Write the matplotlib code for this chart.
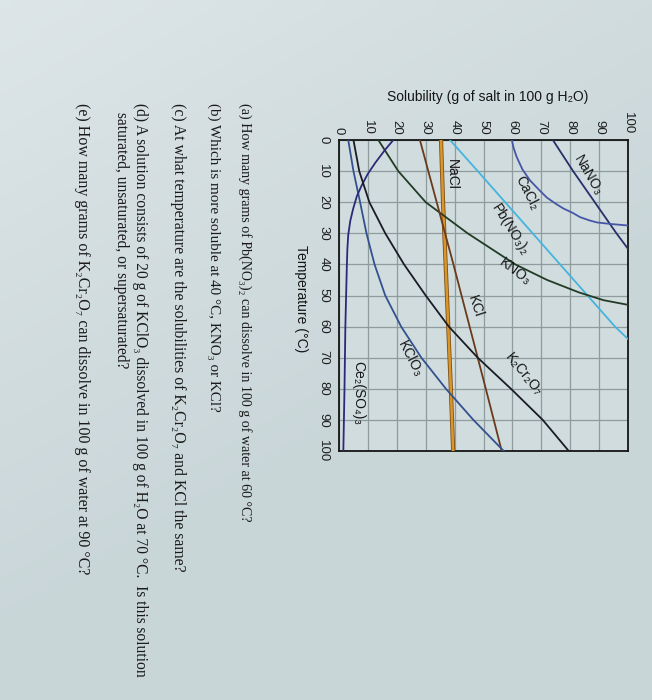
import matplotlib
matplotlib.use('Agg')
import matplotlib.pyplot as plt
from matplotlib import font_manager
import matplotlib.patheffects as pe
import numpy as np

names = {f.name for f in font_manager.fontManager.ttflist}
SANS = 'Liberation Sans Narrow' if 'Liberation Sans Narrow' in names else 'Liberation Sans'
SANS_LIST = [SANS, 'DejaVu Sans']
REG_SANS = ['Liberation Sans', 'DejaVu Sans']
SERIF_LIST = ['Liberation Serif', 'DejaVu Serif']

# ---------------- data (temperature in °C, solubility in g / 100 g H2O) ----------------
temp_ticks = [0, 10, 20, 30, 40, 50, 60, 70, 80, 90, 100]
sol_ticks = [0, 10, 20, 30, 40, 50, 60, 70, 80, 90, 100]

nano3_T = [0, 10, 20, 30, 35]
nano3_S = [74, 81, 88.5, 96, 100]

cacl2_T = [0, 2.5, 5.5, 9.5, 13, 16, 18.5, 20.5, 22, 23.5, 24.8, 25.8, 26.5, 27, 27.5]
cacl2_S = [59.8, 60.4, 61.5, 63.5, 66.1, 69.2, 71.9, 75, 77.6, 81, 83.4, 86.5, 89.2, 94, 100]

pbno32_T = [0, 10, 20, 30, 40, 50, 60, 64]
pbno32_S = [38.4, 48, 57.5, 67, 76.5, 86, 95.5, 100]

kno3_T = [0, 10, 20, 30, 40, 45, 49, 51.5, 53]
kno3_S = [13.6, 20.5, 30, 44.5, 61, 72, 83, 91.5, 100]

kcl_T = [0, 20, 40, 60, 80, 100]
kcl_S = [28, 33.8, 39.6, 45.2, 50.8, 56.3]

nacl_T = [0, 20, 40, 60, 80, 100]
nacl_S = [35.3, 36.0, 36.9, 37.8, 38.7, 39.5]

kclo3_T = [0, 10, 20, 30, 40, 50, 60, 70, 80, 90, 100]
kclo3_S = [3.2, 5, 7.3, 9.5, 12.3, 16, 21.5, 28.5, 37, 46.5, 57]

ce2so43_T = [0, 3.2, 7.4, 11, 14.7, 18, 22.1, 26, 30.5, 35, 41, 60, 80, 100]
ce2so43_S = [18.8, 15.9, 12.5, 9.9, 7.8, 6.2, 4.9, 3.9, 3.2, 2.9, 2.7, 2.2, 1.9, 1.5]

k2cr2o7_T = [0, 10, 20, 30, 40, 50, 60, 70, 80, 90, 100]
k2cr2o7_S = [5, 7, 10.5, 16, 22.5, 30, 38, 48, 59.5, 70.5, 79.5]

series = [
    ('NaNO₃', nano3_S, nano3_T, '#27306a'),
    ('CaCl₂', cacl2_S, cacl2_T, '#4656a6'),
    ('Pb(NO₃)₂', pbno32_S, pbno32_T, '#45b4dc'),
    ('KNO₃', kno3_S, kno3_T, '#223c26'),
    ('KCl', kcl_S, kcl_T, '#6a3a1c'),
    ('KClO₃', kclo3_S, kclo3_T, '#33518e'),
    ('Ce₂(SO₄)₃', ce2so43_S, ce2so43_T, '#2a2a7a'),
    ('K₂Cr₂O₇', k2cr2o7_S, k2cr2o7_T, '#1b1b24'),
]

# label: (solubility, temperature, rotation)
labels = {
    'NaNO₃': (86.2, 11.3, -60),
    'CaCl₂': (65, 17, -63),
    'Pb(NO₃)₂': (59.2, 29, -58),
    'KNO₃': (60.9, 42.5, -37),
    'KCl': (47, 53.5, -72),
    'NaCl': (39, 11.2, -90),
    'KClO₃': (24.6, 70.5, -63),
    'Ce₂(SO₄)₃': (6.7, 81.5, -90),
    'K₂Cr₂O₇': (63.8, 75.5, -51),
}

questions = [
    '(a) How many grams of Pb(NO₃)₂ can dissolve in 100 g of water at 60 °C?',
    '(b) Which is more soluble at 40 °C, KNO₃ or KCl?',
    '(c) At what temperature are the solubilities of K₂Cr₂O₇ and KCl the same?',
    '(d) A solution consists of 20 g of KClO₃ dissolved in 100 g of H₂O at 70 °C.  Is this solution',
    'saturated, unsaturated, or supersaturated?',
    '(e) How many grams of K₂Cr₂O₇ can dissolve in 100 g of water at 90 °C?',
]

# ---------------- figure ----------------
W, H = 652, 700
BG = '#cbd7d9'
fig = plt.figure(figsize=(W / 100, H / 100), dpi=100, facecolor=BG)

# subtle paper shading (decoration only): lighter towards the top-left
bgax = fig.add_axes([0, 0, 1, 1], zorder=-10)
gy, gx = np.mgrid[0:1:70j, 0:1:66j]   # gy = 0 bottom, 1 top
light = np.clip(0.55 * (1 - gx) + 1.0 * gy - 0.65, 0, 1)
c_light = np.array([0.875, 0.905, 0.915])
c_dark = np.array([0.79, 0.84, 0.85])
img = c_dark[None, None, :] * (1 - light[..., None]) + c_light[None, None, :] * light[..., None]
bgax.imshow(img, extent=[0, 1, 0, 1], aspect='auto', origin='lower', interpolation='bilinear')
bgax.set_axis_off()

def fx(x):
    return x / W

def fy(y):
    return 1 - y / H

left, top, right, bottom = 339, 140, 628, 451
ax = fig.add_axes([fx(left), fy(bottom), (right - left) / W, (bottom - top) / H])
ax.set_facecolor('#d0dcde')
ax.set_xlim(0, 100)
ax.set_ylim(100, 0)
ax.set_xticks(sol_ticks)
ax.set_yticks(temp_ticks)
ax.xaxis.tick_top()
ax.tick_params(axis='both', length=0, labelsize=9.5, colors='#1e1e1e')
ax.tick_params(axis='x', pad=4)
ax.tick_params(axis='y', pad=7)
ax.set_xticklabels([str(v) for v in sol_ticks], rotation=-90, family=REG_SANS)
ax.set_yticklabels([str(v) for v in temp_ticks], rotation=-90, family=REG_SANS, va='center')
ax.grid(True, color='#8e9c9e', lw=0.9)
ax.set_axisbelow(True)
for s in ax.spines.values():
    s.set_color('#151515')
    s.set_linewidth(1.3)

ax.plot(nacl_S, nacl_T, color='#d9962a', lw=1.8, zorder=3,
        path_effects=[pe.Stroke(linewidth=3.0, foreground='#7d4f16'), pe.Normal()])
for name, S, T, c in series:
    ax.plot(S, T, color=c, lw=1.3, zorder=3)

for name, (s, t, rot) in labels.items():
    ax.text(s, t, name, rotation=rot, ha='center', va='center', fontsize=10,
            family=REG_SANS, color='#151515', rotation_mode='anchor', zorder=4)

fig.text(fx(488), fy(96.5), 'Solubility (g of salt in 100 g H₂O)', ha='center', va='center',
         fontsize=10, family=SANS_LIST, color='#151515')
fig.text(fx(301), fy(299), 'Temperature (°C)', ha='center', va='center', rotation=-90,
         fontsize=10, family=SANS_LIST, color='#151515')

q_pos = [(245, 103), (214, 103), (178, 103), (140, 103), (121, 112), (82, 103)]
q_size = [10.1, 10.9, 11.3, 11.2, 11.2, 11.5]
for (x, y), q, fs in zip(q_pos, questions, q_size):
    fig.text(fx(x), fy(y), q, ha='center', va='top', rotation=-90, fontsize=fs,
             family=SERIF_LIST, color='#1a1a1a')

fig.savefig('out.png', dpi=100, facecolor=BG)
